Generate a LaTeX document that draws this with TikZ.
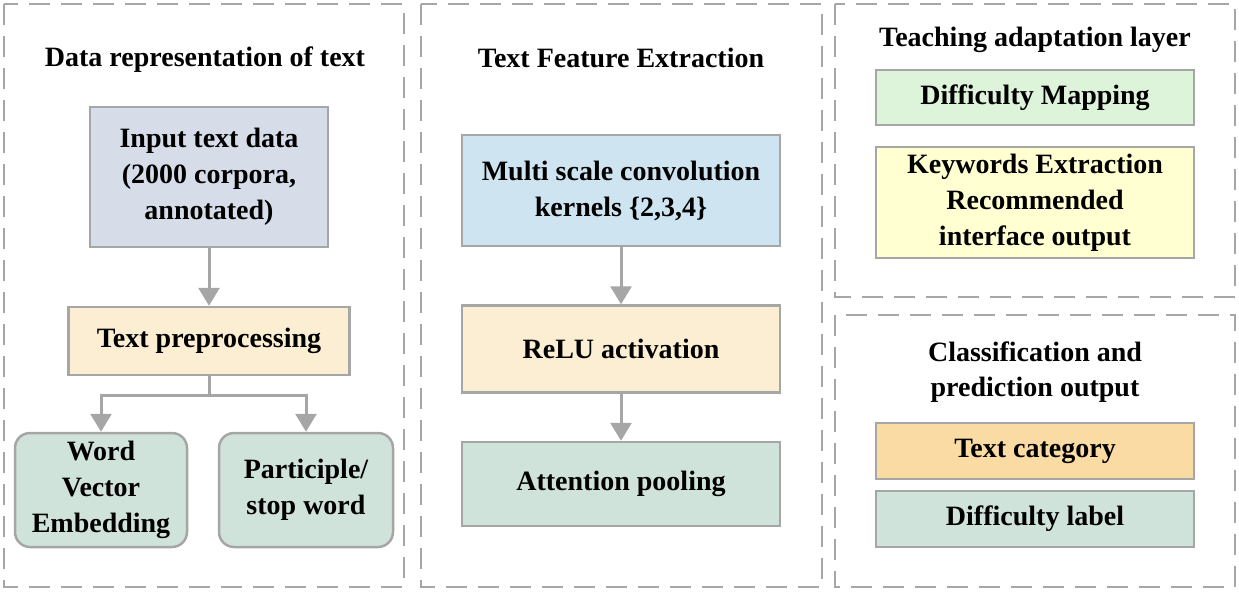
\documentclass[tikz,border=0pt]{standalone}
\usepackage{fontspec}
\setmainfont{Liberation Serif}
\usetikzlibrary{arrows.meta,positioning}
\definecolor{LineGray}{HTML}{A6A6A6}
\definecolor{InputBlue}{HTML}{D6DCE8}
\definecolor{ConvBlue}{HTML}{CFE4F1}
\definecolor{Cream}{HTML}{FCEED3}
\definecolor{Sage}{HTML}{D0E3DB}
\definecolor{Mint}{HTML}{DDF3DA}
\definecolor{Lemon}{HTML}{FFFFD2}
\definecolor{Apricot}{HTML}{F9DBA3}

\tikzset{
  panel/.style={draw=LineGray,line width=2.5pt,dash pattern=on 21pt off 11pt},
  block/.style={draw=LineGray,line width=2.5pt,align=center,inner sep=0pt,
    font=\bfseries\fontsize{28}{36}\selectfont},
  heading/.style={align=center,font=\bfseries\fontsize{28}{35}\selectfont},
  flow/.style={draw=LineGray,line width=3pt,-{Triangle[width=21pt,length=18pt]}},
  joint/.style={draw=LineGray,line width=3pt}
}

\begin{document}
\begin{tikzpicture}[x=1pt,y=-1pt]
  \useasboundingbox (0,0) rectangle (1239,592);
  % dashed frames
  \draw[panel] (4,4) rectangle (404,587);
  \draw[panel] (421,4) rectangle (822,587);
  \draw[panel] (835,4) rectangle (1235,297);
  \draw[panel] (835,315) rectangle (1235,587);

  % data representation
  \node[heading] (reptitle) at (205,60) {Data representation of text};
  \node[block,fill=InputBlue,minimum width=238pt,minimum height=140pt]
    (input) at (209,177) {Input text data\\(2000 corpora,\\annotated)};
  \node[block,fill=Cream,minimum width=281pt,minimum height=68pt]
    (prep) at (209,341) {Text preprocessing};
  \node[block,fill=Sage,rounded corners=15pt,minimum width=172pt,minimum height=114pt]
    (wordvec) at (101,490) {Word\\Vector\\Embedding};
  \node[block,fill=Sage,rounded corners=15pt,minimum width=174pt,minimum height=114pt]
    (stopword) at (306,490) {Participle/\\stop word};
  \coordinate (split) at ([yshift=-19pt]prep.south);
  \draw[flow] (input) -- (prep);
  \draw[joint] (prep.south) -- (split);
  \draw[flow] (split) -| (wordvec.north);
  \draw[flow] (split) -| (stopword.north);

  % feature extraction
  \node[heading] (feattitle) at (621,58) {Text Feature Extraction};
  \node[block,fill=ConvBlue,minimum width=318pt,minimum height=111pt]
    (conv) at (621,190.5) {Multi scale convolution\\kernels \{2,3,4\}};
  \node[block,fill=Cream,minimum width=318pt,minimum height=87pt]
    (relu) at (621,349) {ReLU activation};
  \node[block,fill=Sage,minimum width=318pt,minimum height=84pt]
    (attpool) at (621,484) {Attention pooling};
  \draw[flow] (conv) -- (relu);
  \draw[flow] (relu) -- (attpool);

  % teaching adaptation
  \node[heading] (teachtitle) at (1035,40) {Teaching adaptation layer};
  \node[block,fill=Mint,minimum width=318pt,minimum height=55pt]
    (diffmap) at (1035,97.5) {Difficulty Mapping};
  \node[block,fill=Lemon,minimum width=318pt,minimum height=111pt]
    (keywords) at (1035,202.5) {Keywords Extraction\\Recommended\\interface output};

  % classification output
  \node[heading] (classtitle) at (1035,372) {Classification and\\prediction output};
  \node[block,fill=Apricot,minimum width=318pt,minimum height=56pt]
    (textcat) at (1035,451) {Text category};
  \node[block,fill=Sage,minimum width=318pt,minimum height=56pt]
    (difflabel) at (1035,519) {Difficulty label};
\end{tikzpicture}
\end{document}
